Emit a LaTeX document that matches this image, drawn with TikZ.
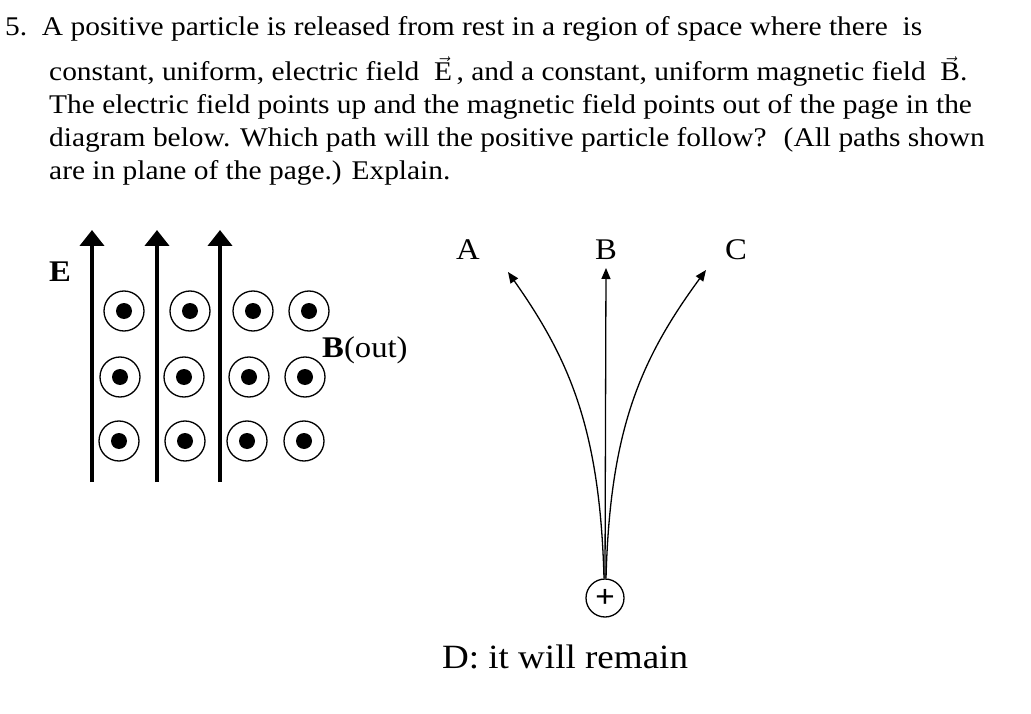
\documentclass[tikz,border=0pt]{standalone}
\usepackage{amsmath}
\usepackage{fontspec}
\setmainfont[FakeStretch=1.09]{Liberation Serif}
\usetikzlibrary{arrows.meta}
\begin{document}
\begin{tikzpicture}[x=1pt,y=-1pt,
  txt/.style={anchor=base west,inner sep=0pt,font=\fontsize{27}{30}\selectfont},
  lbl/.style={inner sep=0pt,font=\fontsize{30}{32}\selectfont},
  efield/.style={line width=4.5pt,-{Triangle[width=24pt,length=16pt]}},
  path/.style={line width=1.3pt,-{Triangle[width=9pt,length=11pt]}},
  bring/.style={circle,draw,line width=1.3pt,minimum size=40pt,inner sep=0pt},
  bdot/.style={circle,fill=black,minimum size=16pt,inner sep=0pt}]
\useasboundingbox (0,0) rectangle (1031,714);
\node[txt] (l1) at (5,36) {5.\ \ A positive particle is released from rest in a region of space where there \ is};
\node[txt] (l2) at (49,81) {constant, uniform, electric field \ $\vec{\text{E}}$\,, and a constant, uniform magnetic field \ $\vec{\text{B}}$.};
\node[txt] (l3) at (49,114) {The electric field points up and the magnetic field points out of the page in the};
\node[txt] (l4) at (49,147) {diagram below. Which path will the positive particle follow? \ (All paths shown};
\node[txt] (l5) at (49,180) {are in plane of the page.) Explain.};
% E field
\foreach \x/\n in {92/e1,157/e2,220/e3}{
  \coordinate (\n b) at (\x,482); \coordinate (\n t) at (\x,230);
  \draw[efield] (\n b) -- (\n t);}
\node[lbl,font=\fontsize{30}{32}\selectfont\bfseries] (E) at (60,272) {E};
\foreach \x/\y/\n in {124/311/a1,190/311/a2,253/311/a3,309/311/a4,
  120/377/b1,184/377/b2,249/377/b3,305/377/b4,
  119/441/c1,185/441/c2,247/441/c3,304/441/c4}{
  \node[bring] (\n) at (\x,\y) {};
  \node[bdot] at (\n) {};}
\node[lbl,anchor=west] (Bout) at (322,350) {\textbf{B}(out)};
% particle
\node[circle,draw,line width=1.3pt,minimum size=38pt,inner sep=0pt,font=\fontsize{32}{32}\selectfont\bfseries] (p) at (605,598) {+};
\coordinate (ta) at (508,272);
\coordinate (tb) at (606,268);
\coordinate (tc) at (706,270);
\draw[path] (p.north) -- (tb);
\draw[path] ([xshift=-1pt]p.north) .. controls (600,430) and (570,360) .. (ta);
\draw[path] ([xshift=1pt]p.north) .. controls (610,430) and (640,360) .. (tc);
\node[lbl] (A) at (468,250) {A};
\node[lbl] (B) at (606,250) {B};
\node[lbl] (C) at (736,250) {C};
\node[lbl,font=\fontsize{34}{36}\selectfont] (D) at (565,657) {D: it will remain};
\end{tikzpicture}
\end{document}
